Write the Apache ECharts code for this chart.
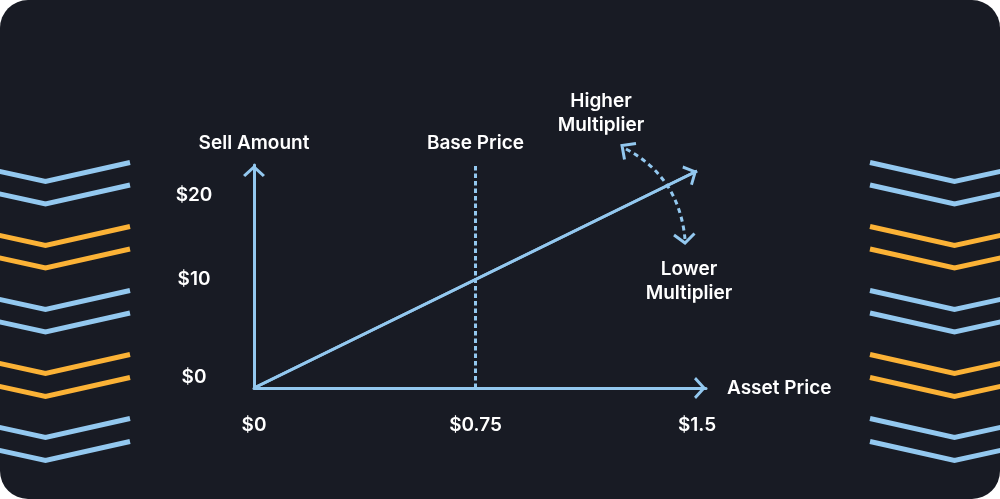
<!DOCTYPE html>
<html>
<head>
<meta charset="utf-8">
<script src="https://cdn.jsdelivr.net/npm/echarts@6/dist/echarts.min.js"></script>
<style>
html, body { margin: 0; padding: 0; background: #ffffff; }
#wrap { width: 1000px; height: 499px; background: #181b24; border-radius: 28px; overflow: hidden; }
#chart { width: 1000px; height: 499px; }
</style>
</head>
<body>
<div id="wrap"><div id="chart"></div></div>
<script>
// ---------------- data ----------------
const assetPrice = [0, 1.5];
const sellAmount = [0, 20];
const basePrice = 0.75;
const xTickValues = [0, 0.75, 1.5];
const xTickLabels = ['$0', '$0.75', '$1.5'];
const yTickValues = [0, 10, 20];
const yTickLabels = ['$0', '$10', '$20'];
const xAxisName = 'Asset Price';
const yAxisName = 'Sell Amount';
const baseLabel = 'Base Price';
const higherLabel = 'Higher\nMultiplier';
const lowerLabel = 'Lower\nMultiplier';
const chevronColorKeys = ['blue', 'blue', 'orange', 'orange', 'blue', 'blue', 'orange', 'orange', 'blue', 'blue'];

// ---------------- layout / style ----------------
const BLUE = '#93c8ef';
const ORANGE = '#fbb236';
const TEXT = '#ffffff';
const FONT = 'Inter';
const FSIZE = 19;
const COLORS = { blue: BLUE, orange: ORANGE };
const CHEV = 'path://M0,10 L11,0 L22,10 L19.8,12 L11,4 L2.2,12 Z';

// main plot frame (px)
const PX0 = 254, PX15 = 697, PXEND = 706;   // x pixel of 0, 1.5 and axis tip
const PY0 = 388, PY20 = 171, PYEND = 165;   // y pixel of 0, 20 and axis tip
const XMAX = 1.5 * (PXEND - PX0) / (PX15 - PX0);
const YMAX = 20 * (PY0 - PYEND) / (PY0 - PY20);

// decoration chevron rows (canvas px)
const chevronRowsY = [181.5, 204, 245.5, 268, 309.5, 332, 373.5, 396.5, 437.5, 460.5];
const leftChevron = [[-10, -12.2], [45.5, 0], [130, -19]];
const rightChevron = [[870, -19], [954.5, 0], [1010, -12.2]];
// curved annotation arrow (canvas px)
const curveStart = [626, 149], curveCtrl = [679, 177], curveEnd = [685, 239];
const headTop = [[636, 143.5], [622, 145.5], [624.5, 159.5]];
const headBottom = [[674, 235], [685, 243], [694.5, 233.5]];

const textStyle = { color: TEXT, fontFamily: FONT, fontWeight: 600, fontSize: FSIZE };

function lookup(values, labels, v) {
  for (let i = 0; i < values.length; i++) if (Math.abs(values[i] - v) < 1e-9) return labels[i];
  return '';
}

const chart = echarts.init(document.getElementById('chart'), null, { renderer: 'canvas' });

const series = [];

// decorative chevrons in a full-canvas pixel grid
chevronRowsY.forEach(function (vy, i) {
  [leftChevron, rightChevron].forEach(function (shape) {
    series.push({
      type: 'line', xAxisIndex: 1, yAxisIndex: 1, silent: true, symbol: 'none', z: 1,
      data: shape.map(function (p) { return [p[0], vy + p[1]]; }),
      lineStyle: { color: COLORS[chevronColorKeys[i]], width: 5, cap: 'butt', join: 'miter' }
    });
  });
});

// main line
series.push({
  type: 'line', xAxisIndex: 0, yAxisIndex: 0, symbol: 'none', z: 5, silent: true,
  data: assetPrice.map(function (x, i) { return [x, sellAmount[i]]; }),
  lineStyle: { color: BLUE, width: 3 },
  markLine: {
    silent: true, animation: false,
    symbol: ['none', 'none'],
    emphasis: { disabled: true },
    label: { show: false },
    data: [
      [
        { coord: [assetPrice[0], sellAmount[0]], symbol: 'none' },
        { coord: [assetPrice[1], sellAmount[1]], symbol: CHEV, symbolSize: [22, 12], symbolOffset: [0, 6] }
      ],
      {
        xAxis: basePrice,
        lineStyle: { color: BLUE, width: 3, type: [4.5, 3] },
        label: Object.assign({ show: true, position: 'end', distance: 12, formatter: baseLabel }, textStyle)
      }
    ],
    lineStyle: { color: BLUE, width: 3, type: 'solid' }
  }
});

const headStyle = { stroke: BLUE, lineWidth: 3, fill: null, lineJoin: 'miter', lineCap: 'butt' };

const option = {
  backgroundColor: 'transparent',
  animation: false,
  grid: [
    { left: PX0, right: 1000 - PXEND, top: PYEND, bottom: 499 - PY0 },
    { left: 0, right: 0, top: 0, bottom: 0 }
  ],
  xAxis: [
    {
      type: 'value', gridIndex: 0, min: 0, max: XMAX, interval: 0.75,
      splitLine: { show: false }, axisTick: { show: false },
      axisLine: {
        show: true, onZero: false,
        symbol: ['none', CHEV], symbolSize: [22, 12], symbolOffset: [0, -6],
        lineStyle: { color: BLUE, width: 3 }
      },
      axisLabel: Object.assign({
        margin: 28, showMaxLabel: false,
        formatter: function (v) { return lookup(xTickValues, xTickLabels, v); }
      }, textStyle),
      name: xAxisName, nameLocation: 'end', nameGap: 21,
      nameTextStyle: Object.assign({ align: 'left', verticalAlign: 'middle', padding: [3, 0, 0, 0] }, textStyle)
    },
    { type: 'value', gridIndex: 1, min: 0, max: 1000, show: false }
  ],
  yAxis: [
    {
      type: 'value', gridIndex: 0, min: 0, max: YMAX, interval: 10,
      splitLine: { show: false }, axisTick: { show: false },
      axisLine: {
        show: true, onZero: false,
        symbol: ['none', CHEV], symbolSize: [22, 12], symbolOffset: [0, -6],
        lineStyle: { color: BLUE, width: 3 }
      },
      axisLabel: Object.assign({
        margin: 60, align: 'center', showMaxLabel: false,
        formatter: function (v) {
          const t = lookup(yTickValues, yTickLabels, v);
          if (!t) return '';
          if (v === yTickValues[2]) return '{top|' + t + '}';
          if (v === yTickValues[0]) return '{bot|' + t + '}';
          return '{mid|' + t + '}';
        },
        rich: {
          top: Object.assign({ padding: [48, 0, 0, 0] }, textStyle),
          bot: Object.assign({ padding: [0, 0, 22, 0] }, textStyle),
          mid: Object.assign({}, textStyle)
        }
      }, textStyle),
      name: yAxisName, nameLocation: 'end', nameGap: 12,
      nameTextStyle: Object.assign({ align: 'center' }, textStyle)
    },
    { type: 'value', gridIndex: 1, min: 0, max: 499, inverse: true, show: false }
  ],
  graphic: [
    {
      type: 'text', x: 601, y: 113, silent: true, z: 10,
      style: { text: higherLabel, align: 'center', verticalAlign: 'middle', lineHeight: 24, fill: TEXT,
        font: '600 ' + FSIZE + 'px ' + FONT }
    },
    {
      type: 'text', x: 689, y: 281, silent: true, z: 10,
      style: { text: lowerLabel, align: 'center', verticalAlign: 'middle', lineHeight: 24, fill: TEXT,
        font: '600 ' + FSIZE + 'px ' + FONT }
    },
    {
      type: 'bezierCurve', silent: true, z: 10,
      shape: { x1: curveStart[0], y1: curveStart[1], cpx1: curveCtrl[0], cpy1: curveCtrl[1], x2: curveEnd[0], y2: curveEnd[1] },
      style: { stroke: BLUE, lineWidth: 3, fill: null, lineDash: [5, 4] }
    },
    {
      type: 'polyline', silent: true, z: 10,
      shape: { points: headTop },
      style: headStyle
    },
    {
      type: 'polyline', silent: true, z: 10,
      shape: { points: headBottom },
      style: headStyle
    }
  ],
  series: series
};

chart.setOption(option);
</script>
</body>
</html>
